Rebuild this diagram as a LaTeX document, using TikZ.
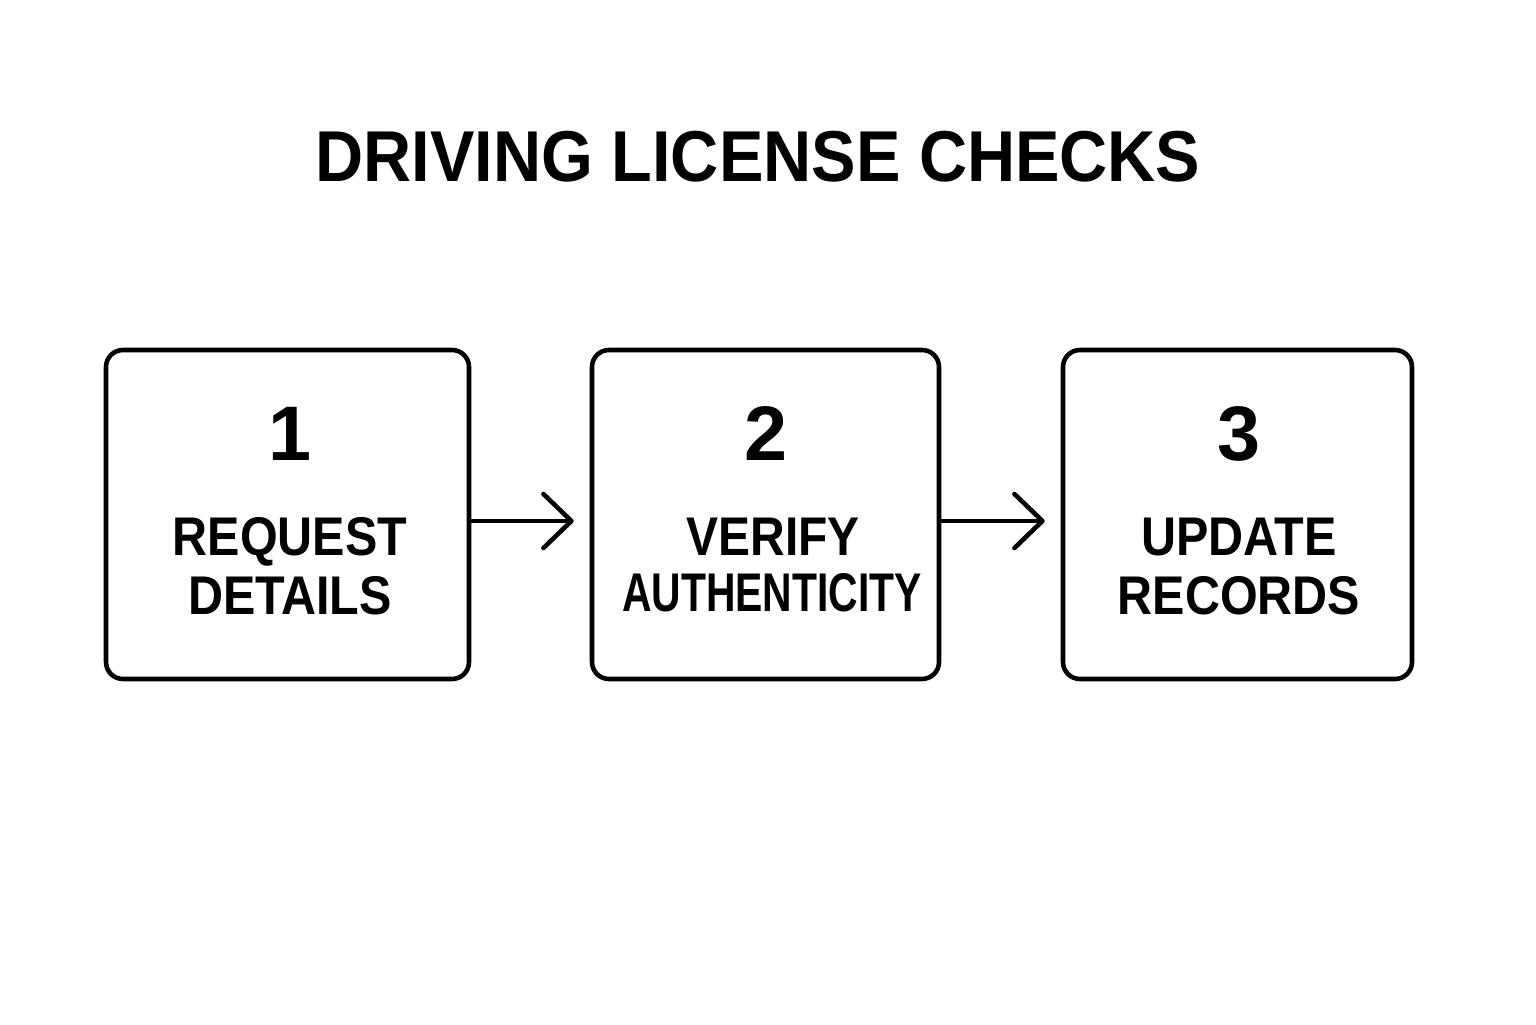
\documentclass[tikz,border=0pt]{standalone}
\usepackage{fontspec}
\setmainfont{Liberation Sans}
\usepackage{graphicx}
\usetikzlibrary{arrows.meta}
\begin{document}
\begin{tikzpicture}[
  stepbox/.style={draw=black, line width=1.3pt, rounded corners=0.17cm, minimum width=#1, minimum height=3.29cm, inner sep=0pt},
  numtxt/.style={anchor=base, inner sep=0pt, font=\bfseries\fontsize{22}{26}\selectfont},
  lbltxt/.style={anchor=base, inner sep=0pt, font=\bfseries\fontsize{15.5}{18}\selectfont},
  arr/.style={line width=1.3pt, -{Straight Barb[length=0.28cm, width=0.54cm, line width=1.3pt, round]}}
]
\useasboundingbox (0,0) rectangle (15.36,10.24);
\node[anchor=base, inner sep=0pt, font=\bfseries\fontsize{20.5}{24}\selectfont] (title) at (7.58,8.42) {\scalebox{0.925}[1]{DRIVING LICENSE CHECKS}};

\node[stepbox=3.63cm] (b1) at (2.875,5.095) {};
\node[stepbox=3.47cm] (b2) at (7.655,5.095) {};
\node[stepbox=3.49cm] (b3) at (12.375,5.095) {};

\node[numtxt] (n1) at (2.90,5.64) {1};
\node[numtxt] (n2) at (7.66,5.64) {2};
\node[numtxt] (n3) at (12.39,5.64) {3};

\node[lbltxt] (l1a) at (2.90,4.69) {\scalebox{0.89}[1]{REQUEST}};
\node[lbltxt] (l1b) at (2.90,4.10) {\scalebox{0.89}[1]{DETAILS}};
\node[lbltxt] (l2a) at (7.73,4.69) {\scalebox{0.88}[1]{VERIFY}};
\node[lbltxt] (l2b) at (7.72,4.13) {\scalebox{0.75}[1]{AUTHENTICITY}};
\node[lbltxt] (l3a) at (12.39,4.69) {\scalebox{0.89}[1]{UPDATE}};
\node[lbltxt] (l3b) at (12.39,4.10) {\scalebox{0.89}[1]{RECORDS}};

\draw[arr] ([yshift=-0.065cm]b1.east) -- ([yshift=-0.065cm,xshift=-0.16cm]b2.west);
\draw[arr] ([yshift=-0.065cm]b2.east) -- ([yshift=-0.065cm,xshift=-0.16cm]b3.west);
\end{tikzpicture}
\end{document}
